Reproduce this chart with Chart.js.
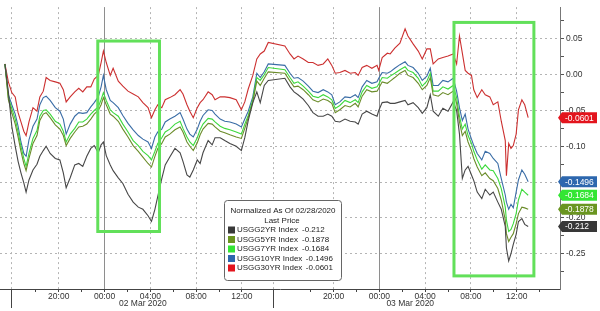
<!DOCTYPE html>
<html>
<head>
<meta charset="utf-8">
<script src="https://cdn.jsdelivr.net/npm/chart.js@4.4.1/dist/chart.umd.min.js"></script>
<style>
    html, body { margin: 0; padding: 0; background: #fff; }
    canvas { display: block; }
</style>
</head>
<body>
<canvas id="chart" width="600" height="311"></canvas>
<script>
// hours counted from 00:00 on 02 Mar 2020
const times = [
    -8.7, -8.4, -8.1, -7.8, -7.55, -7.3, -7.05, -6.85, -6.6, -6.25,
    -5.9, -5.65, -5.35, -5.1, -4.75, -4.3, -3.9, -3.6, -3.35, -3.0,
    -2.6, -2.25, -1.9, -1.55, -1.2, -0.9, -0.55, -0.3, -0.1, 0.15,
    0.5, 0.75, 1.2, 1.6, 2.05, 2.5, 2.95, 3.35, 3.8, 4.1,
    4.4, 4.65, 5.0, 5.3, 5.7, 6.15, 6.6, 6.85, 7.2, 7.45,
    7.75, 8.1, 8.35, 8.6, 9.05, 9.4, 9.65, 10.1, 10.5, 10.95,
    11.5, 11.95, 12.25, 12.55, 12.95, 13.3, 13.6, 13.95, 14.3, 15.75,
    16.2, 16.55, 16.9, 17.35, 17.8, 18.2, 18.65, 19.1, 19.5, 19.85,
    20.15, 20.55, 21.0, 21.45, 21.9, 22.15, 22.5, 22.9, 23.35, 23.8,
    23.95, 24.25, 24.7, 24.95, 25.35, 25.8, 26.25, 26.5, 26.95, 27.4,
    27.75, 28.15, 28.45, 28.7, 29.15, 29.55, 30.0, 30.45, 30.75, 31.0,
    31.25, 31.5, 31.75, 32.05, 32.25, 32.55, 32.95, 33.25, 33.65, 33.95,
    34.35, 34.65, 35.0, 35.1, 35.3, 35.5, 35.7, 35.95, 36.15, 36.45,
    36.7, 37.0
];

const usgg2yr = [
    0.015, -0.024, -0.072, -0.100, -0.121, -0.137, -0.151, -0.164, -0.147, -0.133,
    -0.125, -0.114, -0.106, -0.100, -0.110, -0.117, -0.119, -0.137, -0.158, -0.144,
    -0.126, -0.124, -0.128, -0.114, -0.103, -0.099, -0.109, -0.098, -0.094, -0.113,
    -0.126, -0.134, -0.144, -0.152, -0.167, -0.178, -0.185, -0.188, -0.197, -0.205,
    -0.188, -0.170, -0.145, -0.126, -0.115, -0.103, -0.109, -0.121, -0.140, -0.143,
    -0.133, -0.119, -0.124, -0.109, -0.092, -0.098, -0.088, -0.088, -0.092, -0.096,
    -0.100, -0.106, -0.088, -0.064, -0.039, -0.024, -0.039, -0.015, -0.008, -0.005,
    -0.017, -0.024, -0.028, -0.034, -0.043, -0.053, -0.058, -0.058, -0.055, -0.058,
    -0.065, -0.066, -0.062, -0.065, -0.066, -0.069, -0.055, -0.051, -0.055, -0.058,
    -0.050, -0.039, -0.038, -0.040, -0.040, -0.038, -0.036, -0.042, -0.039, -0.046,
    -0.054, -0.046, -0.028, -0.051, -0.058, -0.047, -0.051, -0.038, -0.050, -0.083,
    -0.145, -0.133, -0.128, -0.140, -0.148, -0.164, -0.173, -0.160, -0.168, -0.164,
    -0.178, -0.188, -0.212, -0.242, -0.260, -0.250, -0.237, -0.223, -0.205, -0.201,
    -0.209, -0.212
];

const usgg5yr = [
    0.015, -0.035, -0.053, -0.069, -0.087, -0.107, -0.124, -0.134, -0.117, -0.096,
    -0.085, -0.064, -0.055, -0.053, -0.060, -0.070, -0.076, -0.085, -0.099, -0.089,
    -0.080, -0.073, -0.072, -0.069, -0.062, -0.055, -0.050, -0.042, -0.032, -0.042,
    -0.055, -0.058, -0.065, -0.076, -0.087, -0.099, -0.107, -0.115, -0.124, -0.129,
    -0.114, -0.103, -0.096, -0.087, -0.083, -0.077, -0.073, -0.080, -0.094, -0.100,
    -0.106, -0.095, -0.084, -0.076, -0.068, -0.069, -0.073, -0.079, -0.081, -0.084,
    -0.087, -0.089, -0.075, -0.060, -0.038, -0.009, -0.015, -0.005, 0.004, 0.002,
    -0.009, -0.017, -0.016, -0.021, -0.028, -0.035, -0.038, -0.034, -0.036, -0.040,
    -0.053, -0.049, -0.043, -0.045, -0.040, -0.045, -0.030, -0.021, -0.024, -0.023,
    -0.019, -0.010, -0.012, -0.009, -0.004, 0.002, 0.006, -0.001, -0.004, -0.012,
    -0.021, -0.015, -0.004, -0.028, -0.030, -0.025, -0.028, -0.023, -0.040, -0.066,
    -0.085, -0.079, -0.094, -0.106, -0.117, -0.129, -0.141, -0.137, -0.145, -0.148,
    -0.159, -0.175, -0.203, -0.222, -0.233, -0.227, -0.222, -0.208, -0.194, -0.185,
    -0.186, -0.1878
];

const usgg7yr = [
    0.015, -0.032, -0.047, -0.062, -0.080, -0.100, -0.117, -0.128, -0.110, -0.089,
    -0.078, -0.058, -0.050, -0.049, -0.055, -0.065, -0.069, -0.079, -0.094, -0.083,
    -0.075, -0.066, -0.066, -0.062, -0.055, -0.050, -0.045, -0.035, -0.025, -0.036,
    -0.049, -0.053, -0.058, -0.069, -0.080, -0.092, -0.099, -0.107, -0.113, -0.119,
    -0.107, -0.096, -0.088, -0.080, -0.076, -0.069, -0.065, -0.075, -0.087, -0.094,
    -0.099, -0.088, -0.077, -0.069, -0.061, -0.062, -0.066, -0.072, -0.075, -0.077,
    -0.080, -0.083, -0.069, -0.057, -0.035, -0.004, -0.008, 0.000, 0.010, 0.007,
    -0.004, -0.012, -0.010, -0.016, -0.023, -0.030, -0.032, -0.028, -0.031, -0.035,
    -0.047, -0.043, -0.036, -0.039, -0.035, -0.039, -0.024, -0.015, -0.019, -0.017,
    -0.013, -0.004, -0.005, -0.002, 0.002, 0.007, 0.011, 0.006, 0.003, -0.005,
    -0.016, -0.009, 0.002, -0.023, -0.023, -0.017, -0.020, -0.015, -0.032, -0.058,
    -0.076, -0.069, -0.085, -0.096, -0.107, -0.119, -0.132, -0.126, -0.133, -0.134,
    -0.145, -0.159, -0.185, -0.203, -0.219, -0.216, -0.208, -0.194, -0.175, -0.160,
    -0.164, -0.1684
];

const usgg10yr = [
    0.015, -0.028, -0.042, -0.055, -0.072, -0.094, -0.110, -0.114, -0.091, -0.072,
    -0.062, -0.042, -0.032, -0.030, -0.036, -0.046, -0.051, -0.062, -0.083, -0.069,
    -0.058, -0.053, -0.054, -0.053, -0.045, -0.039, -0.031, -0.017, -0.001, -0.021,
    -0.036, -0.039, -0.046, -0.057, -0.068, -0.077, -0.085, -0.090, -0.094, -0.103,
    -0.087, -0.080, -0.076, -0.066, -0.062, -0.058, -0.053, -0.062, -0.076, -0.083,
    -0.087, -0.076, -0.065, -0.057, -0.049, -0.050, -0.055, -0.062, -0.065, -0.066,
    -0.069, -0.073, -0.062, -0.051, -0.031, 0.002, -0.004, 0.004, 0.015, 0.013,
    0.002, -0.005, -0.004, -0.009, -0.016, -0.023, -0.025, -0.021, -0.024, -0.028,
    -0.042, -0.038, -0.031, -0.032, -0.028, -0.032, -0.017, -0.008, -0.012, -0.010,
    -0.005, 0.003, 0.002, 0.004, 0.009, 0.014, 0.018, 0.013, 0.010, 0.002,
    -0.008, -0.002, 0.009, -0.015, -0.015, -0.008, -0.010, -0.005, -0.023, -0.046,
    -0.064, -0.055, -0.076, -0.090, -0.099, -0.110, -0.119, -0.107, -0.110, -0.117,
    -0.124, -0.145, -0.168, -0.178, -0.188, -0.181, -0.186, -0.164, -0.147, -0.133,
    -0.139, -0.1496
];

const usgg30yr = [
    0.015, -0.010, -0.025, -0.031, -0.053, -0.066, -0.079, -0.085, -0.066, -0.046,
    -0.051, -0.031, -0.023, -0.004, -0.008, -0.010, -0.012, -0.021, -0.038, -0.031,
    -0.024, -0.019, -0.024, -0.017, -0.017, -0.006, -0.001, 0.017, 0.033, 0.017,
    -0.001, 0.009, -0.009, -0.016, -0.023, -0.027, -0.031, -0.039, -0.046, -0.060,
    -0.049, -0.042, -0.046, -0.035, -0.032, -0.028, -0.021, -0.027, -0.042, -0.051,
    -0.060, -0.046, -0.039, -0.035, -0.024, -0.028, -0.035, -0.031, -0.031, -0.032,
    -0.035, -0.049, -0.038, -0.020, -0.001, 0.022, 0.029, 0.033, 0.045, 0.040,
    0.029, 0.022, 0.026, 0.022, 0.017, 0.017, 0.013, 0.015, 0.022, 0.013,
    0.002, 0.003, 0.006, 0.002, 0.003, -0.001, 0.010, 0.013, 0.009, 0.013,
    0.006, 0.024, 0.030, 0.029, 0.037, 0.044, 0.064, 0.054, 0.043, 0.033,
    0.022, 0.036, 0.036, 0.015, 0.022, 0.024, 0.026, 0.029, 0.015, 0.054,
    0.030, 0.006, 0.002, -0.001, -0.021, -0.032, -0.021, -0.028, -0.031, -0.042,
    -0.038, -0.065, -0.092, -0.141, -0.096, -0.103, -0.099, -0.083, -0.049, -0.035,
    -0.042, -0.0601
];

const seriesNames = ["USGG2YR Index", "USGG5YR Index", "USGG7YR Index", "USGG10YR Index", "USGG30YR Index"];
const seriesValues = [usgg2yr, usgg5yr, usgg7yr, usgg10yr, usgg30yr];

const xMajorTicks = [-4, 0, 4, 8, 12, 20, 24, 28, 32, 36];
const xMajorLabels = ["20:00", "00:00", "04:00", "08:00", "12:00", "20:00", "00:00", "04:00", "08:00", "12:00"];
const xMinorTicks = [-6, -2, 2, 6, 10, 18, 22, 26, 30, 34, 38];
const sessionBreaks = [-8.15, 14.75];
const dateLabels = ["02 Mar 2020", "03 Mar 2020"];
const dateLabelAt = [3.35, 26.7];

const yMajorTicks = [0.05, 0, -0.05, -0.1, -0.15, -0.2, -0.25];
const yMajorLabels = ["0.05", "0.00", "-0.05", "-0.10", "-0.15", "-0.20", "-0.25"];
const yMinorTicks = [0.075, 0.025, -0.025, -0.075, -0.125, -0.175, -0.225, -0.275];

// the two green highlight boxes, in hours and yield units
const boxFrom = [-0.59, 30.52];
const boxTo = [4.8, 37.5];
const boxHigh = [0.047, 0.073];
const boxLow = [-0.219, -0.281];

const legendTitle = "Normalized As Of 02/28/2020";
const legendSubtitle = "Last Price";

// styles
const lineColors = ["#474747", "#6b8c2a", "#3cd93c", "#3a6da6", "#cc3030"];
const tagColors = ["#383838", "#6a9520", "#34e634", "#2d67ae", "#e3141d"];
const FONT = "'Liberation Sans', Arial, sans-serif";

const xLabelOf = new Map(xMajorTicks.map((v, i) => [v, xMajorLabels[i]]));
const yLabelOf = new Map(yMajorTicks.map((v, i) => [v, yMajorLabels[i]]));

function xGridColor(v) {
    if (xLabelOf.get(v) === "00:00") return "#8e8e8e";
    if (xLabelOf.has(v) || sessionBreaks.includes(v)) return "#b4b4b4";
    return "rgba(0,0,0,0)";
}

const overlay = {
    id: "overlay",
    afterDatasetsDraw(chart) {
        const {ctx, scales: {x, y}} = chart;
        ctx.save();
        ctx.strokeStyle = "#62e05a";
        ctx.lineWidth = 3;
        boxFrom.forEach((f, i) => {
            const l = x.getPixelForValue(f), r = x.getPixelForValue(boxTo[i]);
            const t = y.getPixelForValue(boxHigh[i]), b = y.getPixelForValue(boxLow[i]);
            ctx.strokeRect(l, t, r - l, b - t);
        });
        ctx.restore();
    },
    afterDraw(chart) {
        const {ctx, scales: {x, y}} = chart;
        ctx.save();

        // long session ticks under the axis
        ctx.strokeStyle = "#444";
        ctx.lineWidth = 1;
        sessionBreaks.forEach(s => {
            const px = Math.round(x.getPixelForValue(s)) + 0.5;
            ctx.beginPath();
            ctx.moveTo(px, x.top);
            ctx.lineTo(px, x.top + 19);
            ctx.stroke();
        });

        // date labels
        ctx.fillStyle = "#333";
        ctx.font = "8.5px " + FONT;
        ctx.textAlign = "center";
        ctx.textBaseline = "middle";
        dateLabels.forEach((d, i) => {
            ctx.fillText(d, x.getPixelForValue(dateLabelAt[i]), x.top + 15);
        });

        // last price tags on the right axis
        ctx.textAlign = "left";
        seriesValues.forEach((vals, i) => {
            const v = vals[vals.length - 1];
            const py = y.getPixelForValue(v);
            const l = y.left + 2, r = y.left + 37, h = 5.5;
            ctx.fillStyle = tagColors[i];
            ctx.beginPath();
            ctx.moveTo(y.left - 2, py);
            ctx.lineTo(l, py - h);
            ctx.lineTo(r, py - h);
            ctx.lineTo(r, py + h);
            ctx.lineTo(l, py + h);
            ctx.closePath();
            ctx.fill();
            ctx.fillStyle = "#fff";
            ctx.fillText(String(v), l + 3, py + 0.5);
        });

        // legend box
        const lx = 224.5, ly = 200.5, lw = 117, lh = 80;
        ctx.fillStyle = "#fff";
        ctx.strokeStyle = "#666";
        ctx.beginPath();
        ctx.roundRect(lx, ly, lw, lh, 3);
        ctx.fill();
        ctx.stroke();

        ctx.font = "8px " + FONT;
        ctx.fillStyle = "#222";
        ctx.textAlign = "center";
        ctx.fillText(legendTitle, lx + lw / 2, ly + 10.5);
        ctx.fillText(legendSubtitle, lx + lw / 2 - 1, ly + 20);
        ctx.textAlign = "left";
        seriesNames.forEach((n, i) => {
            const ry = ly + 29.5 + i * 9.5;
            ctx.fillStyle = tagColors[i];
            ctx.fillRect(lx + 3.5, ry - 3.5, 7, 7);
            ctx.fillStyle = "#222";
            ctx.fillText(n, lx + 12.5, ry);
            const vals = seriesValues[i];
            const vx = Math.max(lx + 77.5, lx + 12.5 + ctx.measureText(n).width + 3.5);
            ctx.fillText(String(vals[vals.length - 1]), vx, ry);
        });
        ctx.restore();
    }
};

new Chart(document.getElementById("chart"), {
    type: "line",
    data: {
        datasets: seriesNames.map((name, i) => ({
            label: name,
            data: times.map((t, j) => ({x: t, y: seriesValues[i][j]})),
            borderColor: lineColors[i],
            borderWidth: 1.1,
            pointRadius: 0,
            tension: 0
        }))
    },
    options: {
        responsive: false,
        animation: false,
        layout: {padding: 0},
        plugins: {legend: {display: false}, tooltip: {enabled: false}},
        scales: {
            x: {
                type: "linear",
                min: -9.13,
                max: 39.78,
                afterBuildTicks: s => {
                    s.ticks = [...xMajorTicks, ...xMinorTicks, ...sessionBreaks]
                        .sort((a, b) => a - b).map(v => ({value: v}));
                },
                afterFit: s => { s.height = 22; },
                ticks: {
                    autoSkip: false, maxRotation: 0, minRotation: 0, padding: 0,
                    color: "#333", font: {family: FONT, size: 8.5},
                    callback: v => xLabelOf.get(v) || ""
                },
                grid: {
                    color: c => xGridColor(c.tick.value),
                    tickLength: 3, tickColor: "#444", tickWidth: 1, lineWidth: 1
                },
                border: {
                    display: true, color: "#444", width: 1,
                    dash: c => (c.tick && xLabelOf.get(c.tick.value) !== "00:00") ? [2, 3] : []
                }
            },
            y: {
                position: "right",
                min: -0.2993,
                max: 0.0944,
                afterBuildTicks: s => {
                    s.ticks = [...yMajorTicks, ...yMinorTicks]
                        .sort((a, b) => b - a).map(v => ({value: v}));
                },
                afterFit: s => { s.width = 40; },
                ticks: {
                    autoSkip: false, padding: 2,
                    color: "#333", font: {family: FONT, size: 8.5},
                    callback: v => yLabelOf.has(v) ? yLabelOf.get(v) : ""
                },
                grid: {
                    color: c => yLabelOf.has(c.tick.value) ? "#b4b4b4" : "rgba(0,0,0,0)",
                    tickLength: 4, tickColor: "#555", lineWidth: 1
                },
                border: {
                    display: true, color: "#777", width: 1,
                    dash: c => c.tick ? [2, 3] : []
                }
            }
        }
    },
    plugins: [overlay]
});
</script>
</body>
</html>
